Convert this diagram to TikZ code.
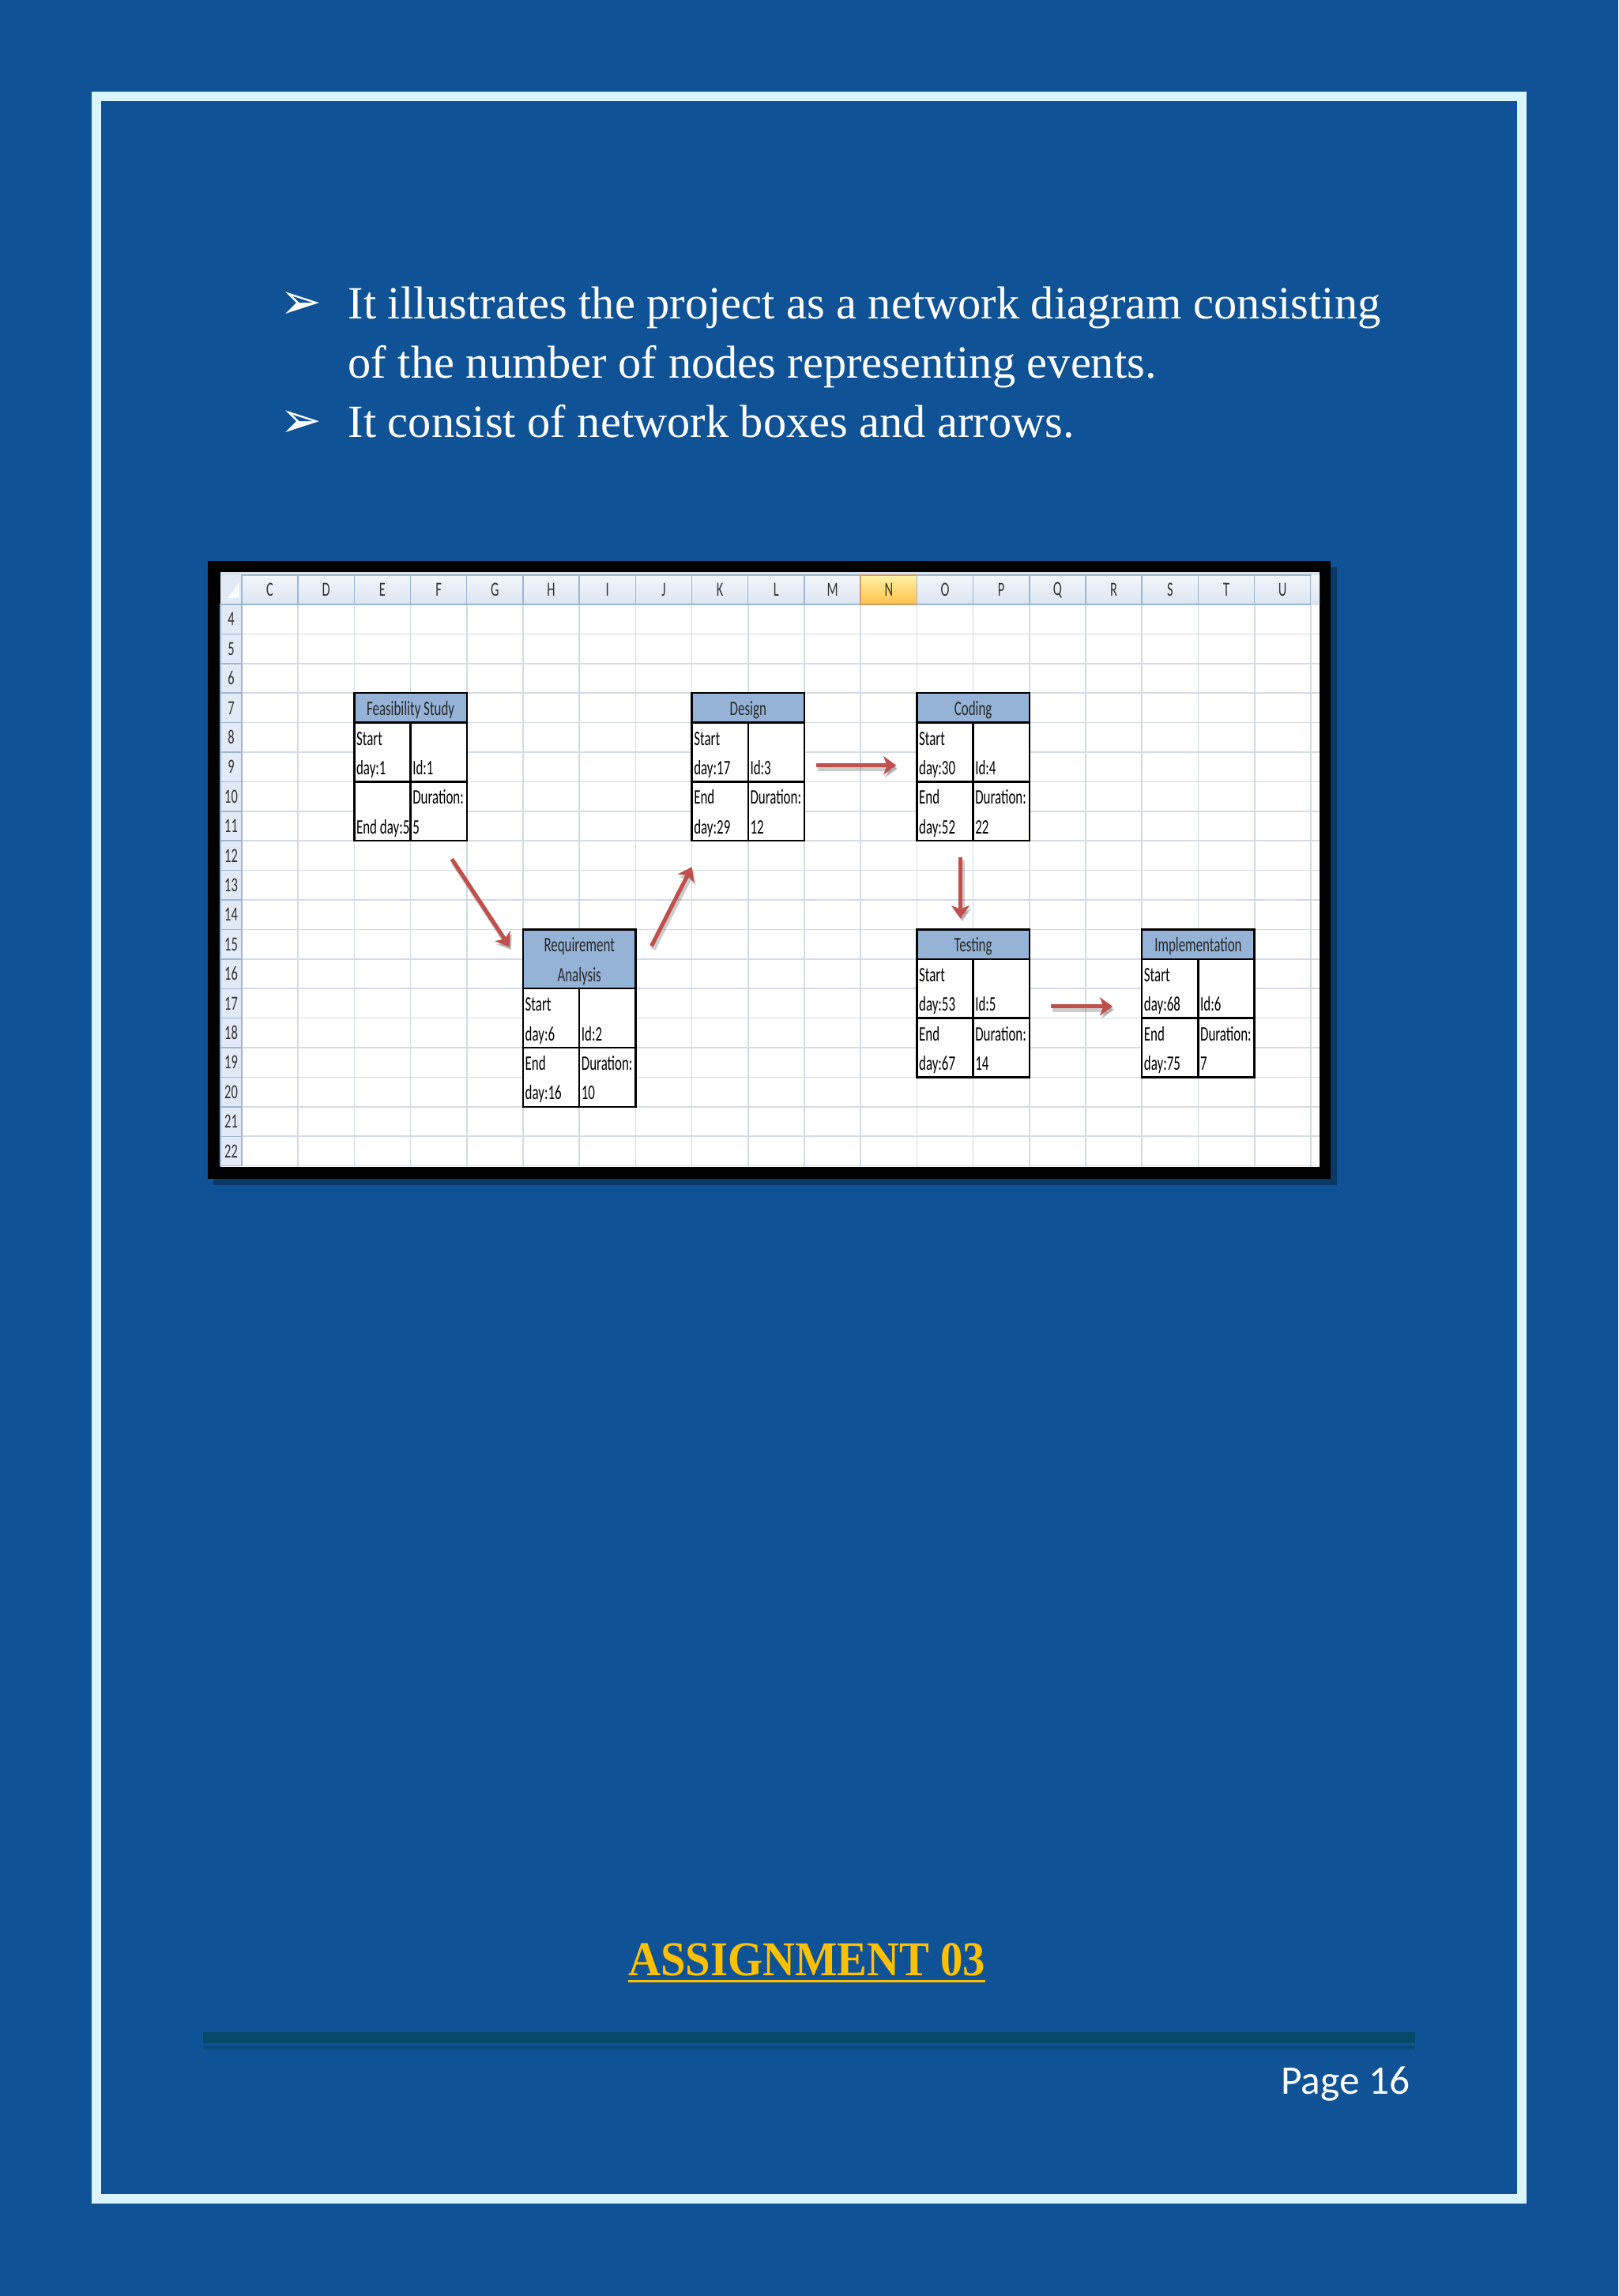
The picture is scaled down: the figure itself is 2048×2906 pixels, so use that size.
\documentclass[tikz,border=0pt]{standalone}
\usepackage{fontspec}
\setmainfont{Liberation Serif}
\newfontfamily\cellfont{Carlito}[FakeStretch=0.65]
\newfontfamily\pagefont{Carlito}
\newfontfamily\titlefont{Liberation Serif}[FakeStretch=0.92]
\newfontfamily\symfont{DejaVu Sans}
\usetikzlibrary{calc,arrows.meta}
\definecolor{pageblue}{HTML}{0F5396}
\definecolor{framecyan}{HTML}{DAF4FB}
\definecolor{headblue}{HTML}{95B3D7}
\definecolor{gridgray}{HTML}{D5DAE4}
\definecolor{hdline}{HTML}{9EB6CE}
\definecolor{hdbg}{HTML}{E1EAF6}
\definecolor{arrowred}{HTML}{C0504D}
\definecolor{gold}{HTML}{FFC000}
\definecolor{barteal}{HTML}{07496B}
\tikzset{
 netbox/.style={draw,line width=0.7pt,minimum width=1.424cm,inner sep=0pt,outer sep=0pt},
 boxrule/.style={line width=0.7pt},
 celltext/.style={anchor=base west,inner sep=0pt,font=\cellfont\fontsize{7.4}{8}\selectfont,text=black},
 headtext/.style={anchor=base,inner sep=0pt,font=\cellfont\fontsize{7.4}{8}\selectfont,text=black!85},
 colhead/.style={minimum width=0.712cm,minimum height=0.37cm,inner sep=0pt,draw=hdline,line width=0.4pt,
  top color=hdbg!40,bottom color=hdbg!90!hdline,font=\cellfont\fontsize{7.2}{8}\selectfont,text=black!80},
 colsel/.style={colhead,top color=orange!25!yellow!35,bottom color=orange!70!yellow!70,draw=orange!70!black!60},
 rowhead/.style={minimum width=0.27cm,minimum height=0.374cm,inner sep=0pt,draw=hdline,line width=0.4pt,
  fill=hdbg,font=\cellfont\fontsize{7.2}{8}\selectfont,text=black!80},
 grid/.style={gridgray,line width=0.5pt},
 bodytext/.style={anchor=base west,inner sep=0pt,text=white,font=\fontsize{16.6}{20}\selectfont},
 bullet/.style={anchor=base west,inner sep=0pt,text=white,font=\symfont\fontsize{18}{20}\selectfont},
 netarrow/.style={arrowred,line width=1.45pt,-{Stealth[length=4.6pt,width=6.6pt,inset=1.2pt]}},
 arrowshadow/.style={black,opacity=0.2,line width=1.8pt,-{Stealth[length=4.6pt,width=6.6pt,inset=1.2pt]},
  transform canvas={shift={(2,4)}}}
}
\begin{document}
\begin{tikzpicture}[x=0.01cm,y=-0.01cm]
\useasboundingbox(0,0)rectangle(2048,2906);
\fill[pageblue](0,0)rectangle(2048,2906);
\draw[framecyan,line width=0.12cm](122,122)rectangle(1926,2783);
\node[bullet](bul1)at(354,403){➢};
\node[bodytext](txt1)at(440,403){It illustrates the project as a network diagram consisting};
\node[bodytext](txt2)at(440,478){of the number of nodes representing events.};
\node[bullet](bul2)at(354,553){➢};
\node[bodytext](txt3)at(440,553){It consist of network boxes and arrows.};
\fill[black,opacity=0.3](270,718)rectangle(1692,1500);
\fill[black](263,710)rectangle(1684,1492);
\fill[white](279,724)rectangle(1670,1477);
\fill[hdline!40](279,724)rectangle(1670,728);
\fill[hdbg](279,728)rectangle(306,765);
\fill[white!85!hdbg](288,757)--(303,757)--(303,737)--cycle;
\foreach \ci in {1,...,19}
 \draw[grid]({306+71.2*\ci},765)--({306+71.2*\ci},1477);
\foreach \ci in {1,...,19}
 \draw[grid](306,{765+37.4*\ci})--(1670,{765+37.4*\ci});
\foreach \cl/\st [count=\ci from 0] in {C/colhead,D/colhead,E/colhead,F/colhead,G/colhead,H/colhead,I/colhead,
 J/colhead,K/colhead,L/colhead,M/colhead,N/colsel,O/colhead,P/colhead,Q/colhead,R/colhead,S/colhead,T/colhead,U/colhead}
 \node[\st](col\cl)at({341.6+71.2*\ci},746.5){\cl};
\shade[top color=hdbg!40,bottom color=hdbg!90!hdline](1659.2,728.5)rectangle(1670,765);
\foreach \rw in {4,...,22}
 \node[rowhead](row\rw)at(292.5,{783.7+37.4*(\rw-4)}){\rw};
\foreach \nm/\kc/\rw/\hr/\ttl/\sd/\id/\en/\ed/\du in {
 fs/2/7/1/Feasibility Study/day:1/Id:1/{}/End day:5/5,
 ra/5/15/2/Requirement/day:6/Id:2/End/day:16/10,
 ds/8/7/1/Design/day:17/Id:3/End/day:29/12,
 cd/12/7/1/Coding/day:30/Id:4/End/day:52/22,
 ts/12/15/1/Testing/day:53/Id:5/End/day:67/14,
 im/16/15/1/Implementation/day:68/Id:6/End/day:75/7}{
 \pgfmathsetmacro\bx{306+71.2*\kc}
 \pgfmathsetmacro\by{765+37.4*(\rw-4)}
 \pgfmathsetmacro\bb{\by+37.4*\hr}
 \fill[white](\bx,\bb)rectangle++(142.4,149.6);
 \fill[headblue](\bx,\by)rectangle++(142.4,{37.4*\hr});
 \draw[boxrule](\bx,\bb)--++(142.4,0)(\bx,{\bb+74.8})--++(142.4,0)({\bx+71.2},\bb)--++(0,149.6);
 \node[netbox,minimum height={(\hr+4)*0.374cm}](\nm)at({\bx+71.2},{\by+18.7*(\hr+4)}){};
 \node[headtext](\nm-t)at({\bx+71.2},{\by+28.4}){\ttl};
 \node[celltext](\nm-a)at({\bx+2},{\bb+28.4}){Start};
 \node[celltext](\nm-b)at({\bx+2},{\bb+65.8}){\sd};
 \node[celltext](\nm-c)at({\bx+73.2},{\bb+65.8}){\id};
 \node[celltext](\nm-d)at({\bx+2},{\bb+103.2}){\en};
 \node[celltext](\nm-e)at({\bx+73.2},{\bb+103.2}){Duration:};
 \node[celltext](\nm-f)at({\bx+2},{\bb+140.6}){\ed};
 \node[celltext](\nm-g)at({\bx+73.2},{\bb+140.6}){\du};
}
\node[headtext](ra-u)at($(ra-t.base)+(0,37.4)$){Analysis};
\coordinate(a1)at($(fs.south east)+(-19,23)$);
\coordinate(b1)at($(ra.north west)+(-17,22)$);
\coordinate(a2)at($(ra.north east)+(20,21)$);
\coordinate(b2)at($(ds.south west)+(0,33)$);
\coordinate(a3)at($(ds.east)+(15,-2)$);
\coordinate(b3)at($(cd.west)+(-26,-2)$);
\coordinate(a4)at($(cd.south)+(-16,21)$);
\coordinate(b4)at($(ts.north)+(-16,-14)$);
\coordinate(a5)at($(ts.east)+(27,4)$);
\coordinate(b5)at($(im.west)+(-37,4)$);
\foreach \ci in {1,...,5}{
 \draw[arrowshadow](a\ci)--(b\ci);
 \draw[netarrow](a\ci)--(b\ci);
}
\node[anchor=base,inner sep=0pt,text=gold,font=\titlefont\bfseries\fontsize{17.5}{20}\selectfont](asg)at(1021,2500){ASSIGNMENT 03};
\draw[gold,line width=0.85pt]($(asg.base west)+(0,7)$)--($(asg.base east)+(0,7)$);
\fill[barteal](257,2572)rectangle(1791,2586);
\fill[barteal!70!pageblue](257,2589)rectangle(1791,2594);
\node[anchor=base east,inner sep=0pt,text=white,font=\pagefont\fontsize{14.6}{16}\selectfont](pg)at(1785,2650){Page 16};
\end{tikzpicture}
\end{document}
